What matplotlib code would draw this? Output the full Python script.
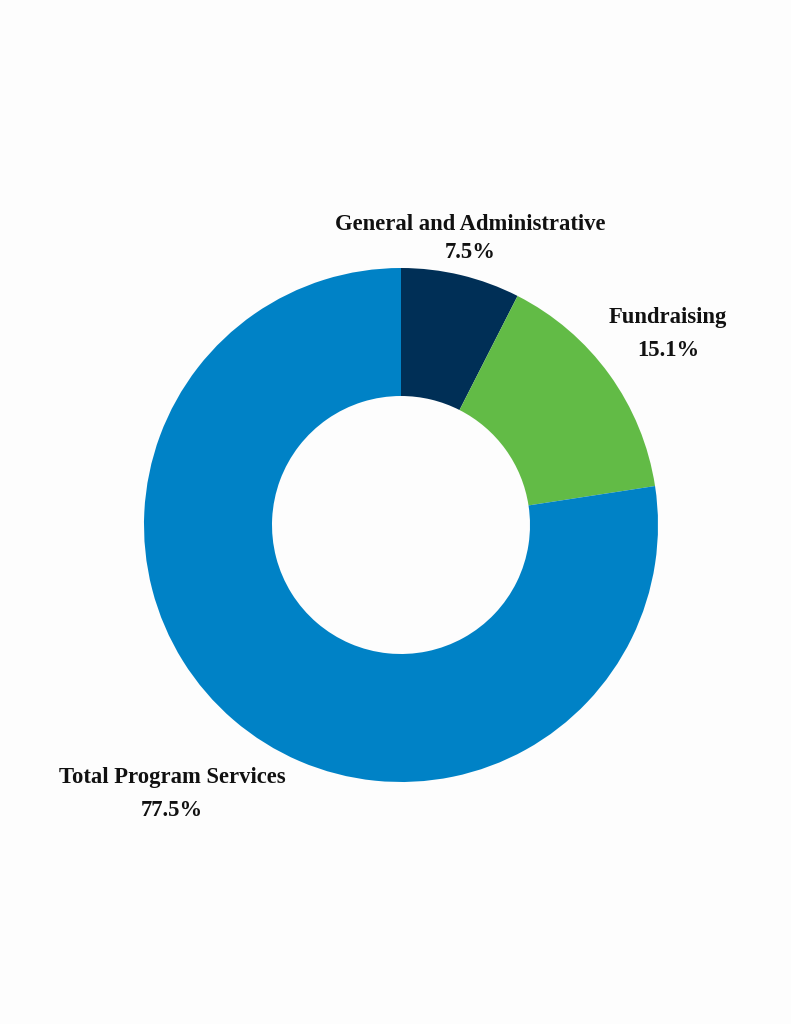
import matplotlib.pyplot as plt

categories = ['General and Administrative', 'Fundraising', 'Total Program Services']
shares = [7.5, 15.1, 77.5]
colors = ['#002F56', '#62BB46', '#0082C6']

W, H = 791, 1024
fig = plt.figure(figsize=(W / 100, H / 100), dpi=100, facecolor='#FDFDFD')
ax = fig.add_axes([0, 0, 1, 1])
ax.set_facecolor('#FDFDFD')

# donut, starting at 12 o'clock and going clockwise
ax.pie(shares, colors=colors, startangle=90, counterclock=False,
       center=(401, H - 525), radius=257,
       wedgeprops={'width': 128, 'linewidth': 0})

ax.set_xlim(0, W)
ax.set_ylim(0, H)
ax.set_aspect('auto')
ax.axis('off')

# label positions (pixels from top-left)
label_pos = [(470, 224, 252), (668, 317, 350), (172, 777, 810)]
font = dict(family=['Liberation Serif', 'DejaVu Serif'], fontweight='bold',
            fontsize=16.3, color='#111111', ha='center', va='center')
for name, val, (x, y1, y2) in zip(categories, shares, label_pos):
    ax.text(x, H - y1, name, **font)
    ax.text(x, H - y2, f'{val}%', **font)

fig.savefig('out.png', dpi=100, facecolor=fig.get_facecolor())
